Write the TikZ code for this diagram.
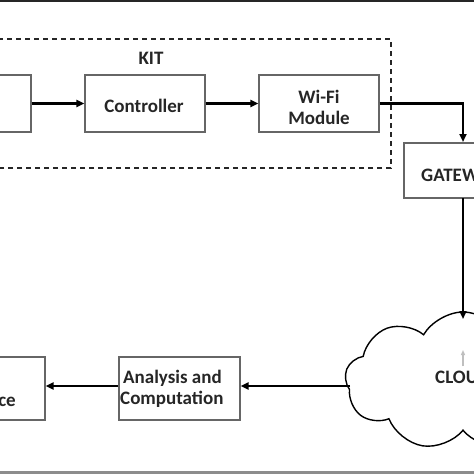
\documentclass[tikz,border=0pt]{standalone}
\usepackage{fontspec}
\setmainfont{Carlito}
\usetikzlibrary{shapes.symbols,arrows.meta}
\begin{document}
\begin{tikzpicture}[x=1pt,y=-1pt,
  blk/.style={draw=black!60,line width=1.1pt,fill=white,inner sep=0pt},
  lbl/.style={font=\fontsize{19}{22}\selectfont\bfseries,text=black!85,inner sep=0pt},
  conn/.style={line width=2.3pt,-{Triangle[length=8pt,width=7pt]}},
  kitbox/.style={draw=black!85,line width=1.6pt,dash pattern=on 5pt off 4pt}]
\useasboundingbox (0,0) rectangle (474,474);
\clip (0,0) rectangle (474,474);
\fill[white] (0,0) rectangle (474,474);
% frame bands
\fill[black!85] (0,0) rectangle (474,2);
\fill[black!45] (0,471) rectangle (474,474);
% KIT dashed box
\draw[kitbox] (-20,39) -- (391,39) -- (391,168) -- (-20,168);
\node[lbl] (kit) at (151,58) {KIT};
% top row boxes
\node[blk,minimum width=90pt,minimum height=57pt] (src) at (-14,103.5) {};
\node[blk,minimum width=120pt,minimum height=57pt] (ctrl) at (145,103.5) {};
\node[lbl] (ctrltxt) at (144,106) {Controller};
\node[blk,minimum width=120pt,minimum height=57pt] (wifi) at (319,103.5) {};
\node[lbl,align=center] (wifitxt) at (319,107) {Wi-Fi\\[-1pt]Module};
% gateway
\node[blk,minimum width=120pt,minimum height=55pt] (gw) at (464,170.5) {};
\node[lbl,anchor=west] (gwtxt) at (421,175) {GATEWAY};
% cloud
\node[cloud,draw=black,line width=1.4pt,fill=white,cloud puffs=9,cloud puff arc=120,aspect=1.7,minimum width=236pt,minimum height=138pt] (cloud) at (463,381) {};
\node[lbl,anchor=west] (cloudtxt) at (435,377) {CLOUD};
\coordinate (cin) at (463,319);
\coordinate (cout) at (350,386);
\draw[black!25,line width=1.2pt,-{Triangle[length=5pt,width=4pt]}] (463,366) -- (463,350);
% bottom row
\node[blk,minimum width=121pt,minimum height=63pt] (ana) at (179.5,388.5) {};
\node[lbl,align=left,anchor=west] (anatxt) at (120,389) {\hspace{3pt}Analysis and\\[-1pt]Computation};
\node[blk,minimum width=90pt,minimum height=63pt] (dev) at (0,388.5) {};
\node[lbl,anchor=east] (devtxt) at (16,402) {ce};
% connectors
\draw[conn] (src.east) -- (ctrl.west);
\draw[conn] (ctrl.east) -- (wifi.west);
\coordinate (gwin) at (463,142);
\draw[conn] (wifi.east) -| (gwin);
\coordinate (gwout) at (463,198);
\draw[conn] (gwout) -- (cin);
\draw[conn] (cout) -- (ana.east |- cout);
\draw[conn] (ana.west |- cout) -- (dev.east |- cout);
\end{tikzpicture}
\end{document}
